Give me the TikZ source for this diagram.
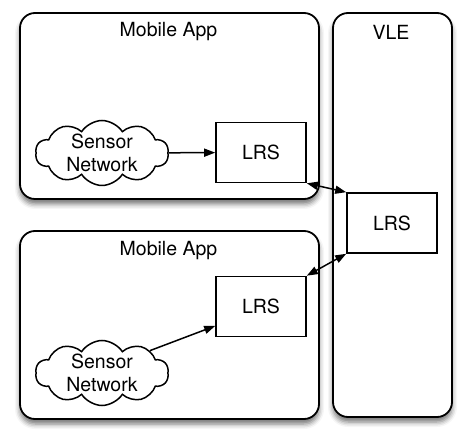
\documentclass[tikz,border=0pt]{standalone}
\usepackage{fontspec}
\setmainfont{TeX Gyre Heros}
\usetikzlibrary{shapes.symbols,shadows.blur,arrows.meta}

\tikzset{
    container/.style={draw, line width=1.8pt, rounded corners=15pt, fill=white,
        blur shadow={shadow xshift=0pt, shadow yshift=-5pt, shadow blur radius=5pt, shadow opacity=55}},
    lrsbox/.style={draw, line width=1.6pt, fill=white, minimum width=90pt, minimum height=60pt},
    sensor/.style={cloud, cloud puffs=10, cloud puff arc=115, draw, line width=1.5pt, fill=white,
        minimum width=133pt, minimum height=65pt, inner sep=0pt},
    link/.style={line width=1.5pt, -{Triangle[length=11pt,width=8pt]}},
    duplex/.style={line width=1.5pt, {Triangle[length=11pt,width=8pt]}-{Triangle[length=11pt,width=8pt]}}
}

\begin{document}
\begin{tikzpicture}[x=1pt, y=-1pt, font=\fontsize{19.5}{23}\selectfont]

    \useasboundingbox (0,0) rectangle (469,443);

    % containers
    \node[container, minimum width=299pt, minimum height=186pt] (mobileA) at (169.5,106) {};
    \node[container, minimum width=119pt, minimum height=404pt] (vle) at (392.5,215) {};
    \node[container, minimum width=299pt, minimum height=188pt] (mobileB) at (169.5,325) {};

    \node (titleA) at (168.5,32) {Mobile App};
    \node (titleV) at (391,32) {VLE};
    \node (titleB) at (168.5,251) {Mobile App};

    % stores
    \node[lrsbox] (lrsA) at (261,152.5) {LRS};
    \node[lrsbox] (lrsV) at (392,223) {LRS};
    \node[lrsbox] (lrsB) at (261,306.5) {LRS};

    % sensors
    \node[sensor, label={[align=center]center:Sensor\\Network}] (sensorA) at (102,153) {};
    \node[sensor, label={[align=center]center:Sensor\\Network}] (sensorB) at (102,373) {};

    \draw[link] (sensorA) -- (lrsA);
    \draw[link] (sensorB.25) -- (lrsB.203);
    \draw[duplex] (lrsA.south east) -- (lrsV.north west);
    \draw[duplex] (lrsB.north east) -- (lrsV.south west);
\end{tikzpicture}
\end{document}
